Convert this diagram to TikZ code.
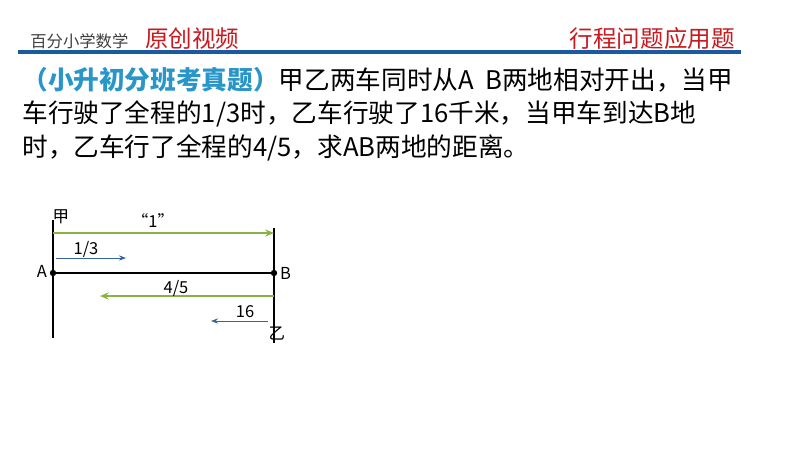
\documentclass[tikz,border=0pt]{standalone}
\usepackage{fontspec}
\setmainfont{Noto Sans CJK SC}
\usetikzlibrary{arrows.meta}
\usetikzlibrary{calc}
\definecolor{titlered}{RGB}{200,25,30}
\definecolor{rulebl}{RGB}{25,90,160}
\definecolor{tagcyan}{RGB}{40,150,200}
\definecolor{lgreen}{RGB}{135,180,65}
\definecolor{lblue}{RGB}{55,100,150}
\tikzset{
    ques/.style={anchor=west,inner sep=0pt,font=\fontsize{14.6}{16}\selectfont},
    lbl/.style={inner sep=1pt,font=\fontsize{9.4}{10}\selectfont},
    tot/.style={lgreen,line width=1.4pt,-{Stealth[length=5pt,width=4pt]}},
    part/.style={lblue,line width=0.5pt,-{Stealth[length=4pt,width=3pt]}},
}
\begin{document}
\begin{tikzpicture}[x=0.02cm,y=-0.02cm]
        \useasboundingbox[fill=white] (0,0) rectangle (800,450);

        % header
        \node[anchor=base west,inner sep=0pt,font=\fontsize{9.3}{10}\selectfont,text=black!75] (brand) at (30,47) {百分小学数学};
        \node[anchor=base west,inner sep=0pt,font=\fontsize{13.4}{14}\selectfont,text=titlered] (orig) at (145,47) {原创视频};
        \node[anchor=base east,inner sep=0pt,font=\fontsize{13.4}{14}\selectfont,text=titlered] (topic) at (735,47) {行程问题应用题};
        \draw[rulebl,line width=2.3pt] (18,52) -- (741,52);

        % question
        \node[ques] (q1) at (22,80) {\textcolor{tagcyan}{\bfseries（小升初分班考真题）}甲乙两车同时从A\ \ B两地相对开出，当甲};
        \node[ques] (q2) at (22,114) {车行驶了全程的1/3时，乙车行驶了16千米，当甲车到达B地};
        \node[ques] (q3) at (22,148) {时，乙车行了全程的4/5，求AB两地的距离。};

        % figure
        \coordinate (A) at (53,273);
        \coordinate (B) at (274,273);
        \coordinate (atop) at (53,220);
        \coordinate (abot) at (53,338);
        \coordinate (btop) at (274,228);
        \coordinate (bbot) at (274,343);
        \draw[line width=1.2pt] (atop) -- (abot);
        \draw[line width=1.2pt] (btop) -- (bbot);
        \draw[line width=1.4pt] (A) -- (B);
        \fill (A) circle (3.2);
        \fill (B) circle (3.2);
        \node[lbl,left] (la) at ($(A)+(-4,-2)$) {A};
        \node[lbl,right] (lb) at ($(B)+(4,0)$) {B};
        \node[lbl] (jia) at (61,217) {甲};
        \node[lbl] (yi) at (277,334) {乙};

        \coordinate (g1s) at (53,233);
        \coordinate (g1e) at (274,233);
        \draw[tot] (g1s) -- (g1e);
        \node[lbl] (one) at (153,220) {“1”};

        \coordinate (p1s) at (56,258);
        \coordinate (p1e) at (126,258);
        \draw[part] (p1s) -- (p1e);
        \node[lbl] (third) at (86,249) {1/3};

        \coordinate (g2s) at (274,296);
        \coordinate (g2e) at (100,296);
        \draw[tot] (g2s) -- (g2e);
        \node[lbl] (fifth) at (176,288) {4/5};

        \coordinate (p2s) at (268,321);
        \coordinate (p2e) at (211,321);
        \draw[part] (p2s) -- (p2e);
        \node[lbl] (sixteen) at (245,312) {16};
\end{tikzpicture}
\end{document}
